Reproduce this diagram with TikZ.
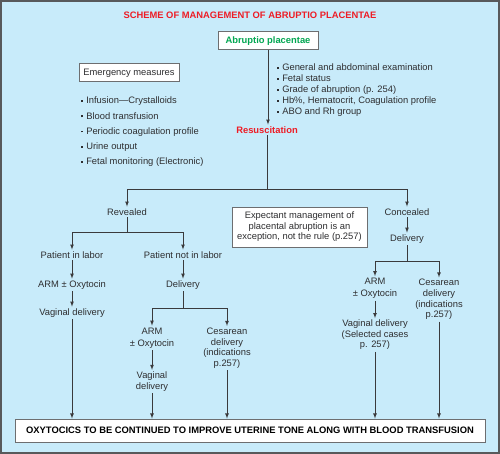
\documentclass[tikz,border=0pt]{standalone}
\usepackage{fontspec}
\setmainfont{Liberation Sans}
\usetikzlibrary{arrows,calc}

\definecolor{bgblue}{HTML}{C8EBFA}
\definecolor{framegray}{HTML}{58595B}
\definecolor{boxgray}{HTML}{6D6E70}
\definecolor{linegray}{HTML}{3A3A3C}
\definecolor{textgray}{HTML}{2E2E30}
\definecolor{titlered}{HTML}{EE1C25}
\definecolor{titlegreen}{HTML}{00A651}

\newcommand{\bul}{\rule[1.5pt]{1.5pt}{1.5pt}\hspace{3pt}}

\tikzset{
  txt/.style={inner sep=1.5pt, align=center, text=textgray, font=\fontsize{8}{9}\selectfont},
  box/.style={txt, rectangle, draw=boxgray, fill=white, line width=0.8pt},
  onebox/.style={box, align=none, text height=5.8pt, text depth=0pt},
  link/.style={draw=linegray, line width=0.5pt},
}

\begin{document}
\begin{tikzpicture}[x=0.03cm, y=-0.03cm, >=latex]
	\useasboundingbox (0,0) rectangle (500,454);
	\path[fill=bgblue, draw=framegray, line width=1.5pt] (0.8,0.8) rectangle (499.2,453.2);

	\path (250,15) node[txt, text=titlered, font=\bfseries\fontsize{8}{9}\selectfont] (title) {SCHEME OF MANAGEMENT OF ABRUPTIO PLACENTAE}
		(268,40.5) node[onebox, text=titlegreen, font=\bfseries\fontsize{8}{9}\selectfont, minimum width=3cm, minimum height=0.54cm] (abr) {Abruptio placentae}
		(129,72.5) node[onebox, minimum width=3cm, minimum height=0.54cm] (emg) {Emergency measures}
		(275,62) node[txt, anchor=north west, align=left, font=\fontsize{8}{9.3}\selectfont] (exam) {\bul General and abdominal examination\\ \bul Fetal status\\ \bul Grade of abruption (p. 254)\\ \bul Hb\%, Hematocrit, Coagulation profile\\ \bul ABO and Rh group}
		(79,95) node[txt, anchor=north west, align=left, font=\fontsize{8}{13}\selectfont] (emlist) {\bul Infusion—Crystalloids\\ \bul Blood transfusion\\ \bul Periodic coagulation profile\\ \bul Urine output\\ \bul Fetal monitoring (Electronic)}
		(267,130) node[txt, text=titlered, font=\bfseries\fontsize{8}{9}\selectfont] (res) {Resuscitation}
		(127,212) node[txt] (rev) {Revealed}
		(407,212) node[txt] (con) {Concealed}
		(299.5,227) node[box, minimum width=4.05cm, minimum height=1.2cm] (exp) {Expectant management of\\ placental abruption is an\\ exception, not the rule (p.257)}
		(72,255) node[txt] (pil) {Patient in labor}
		(183,255) node[txt] (pnl) {Patient not in labor}
		(72,285) node[txt] (arm1) {ARM ± Oxytocin}
		(183,285) node[txt] (del1) {Delivery}
		(72,313) node[txt] (vd1) {Vaginal delivery}
		(152,338) node[txt, font=\fontsize{8}{10.5}\selectfont] (arm2) {ARM\\ ± Oxytocin}
		(227,348) node[txt] (ces1) {Cesarean\\ delivery\\ (indications\\ p.257)}
		(152,381.5) node[txt] (vd2) {Vaginal\\ delivery}
		(407,239) node[txt] (del2) {Delivery}
		(375,288.5) node[txt, font=\fontsize{8}{10.5}\selectfont] (arm3) {ARM\\ ± Oxytocin}
		(439,299.5) node[txt] (ces2) {Cesarean\\ delivery\\ (indications\\ p.257)}
		(375,335) node[txt] (vd3) {Vaginal delivery\\ (Selected cases\\ p. 257)}
		(250,430.5) node[onebox, text=black, font=\bfseries\fontsize{8}{9}\selectfont, minimum width=14.1cm, minimum height=0.69cm] (oxy) {OXYTOCICS TO BE CONTINUED TO IMPROVE UTERINE TONE ALONG WITH BLOOD TRANSFUSION};

	\coordinate (jr) at (267,189);
	\coordinate (jv) at (127,232);
	\coordinate (jd) at (183,308);
	\coordinate (jc) at (407,261);

	\draw[link,->] (abr) -- (abr |- res.north);
	\draw[link] (res) -- (jr);
	\draw[link,->] (jr) -| (rev);
	\draw[link,->] (jr) -| (con);
	\draw[link] (rev) -- (jv);
	\draw[link,->] (jv) -| (pil);
	\draw[link,->] (jv) -| (pnl);
	\draw[link,->] (pil) -- (arm1);
	\draw[link,->] (arm1) -- (vd1);
	\draw[link,->] (vd1) -- (vd1 |- oxy.north);
	\draw[link,->] (pnl) -- (del1);
	\draw[link] (del1) -- (jd);
	\draw[link,->] (jd) -| (arm2);
	\draw[link,->] (jd) -| (ces1);
	\draw[link,->] (arm2) -- (vd2);
	\draw[link,->] (vd2) -- (vd2 |- oxy.north);
	\draw[link,->] (ces1) -- (ces1 |- oxy.north);
	\draw[link,->] (con) -- (del2);
	\draw[link] (del2) -- (jc);
	\draw[link,->] (jc) -| (arm3);
	\draw[link,->] (jc) -| (ces2);
	\draw[link,->] (arm3) -- (vd3);
	\draw[link,->] (vd3) -- (vd3 |- oxy.north);
	\draw[link,->] (ces2) -- (ces2 |- oxy.north);
\end{tikzpicture}
\end{document}
